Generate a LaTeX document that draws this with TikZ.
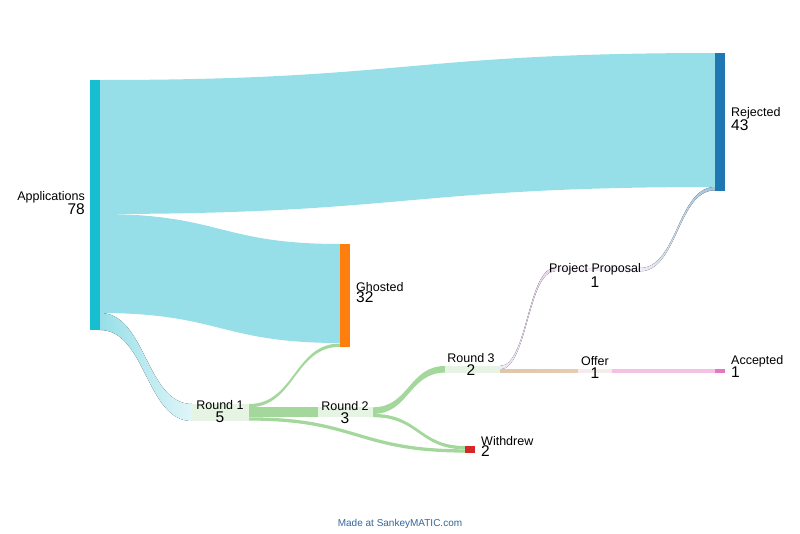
\documentclass[tikz,border=0pt]{standalone}
\usepackage{fontspec}
\setmainfont{Liberation Sans}
\usetikzlibrary{positioning}
\definecolor{appc}{HTML}{17BECF}
\definecolor{appflow}{HTML}{97DFE8}
\definecolor{rejc}{HTML}{1F77B4}
\definecolor{ghc}{HTML}{FF7F0E}
\definecolor{wdc}{HTML}{D62728}
\definecolor{accc}{HTML}{E377C2}
\definecolor{grflow}{HTML}{A3D79B}
\definecolor{grnode}{HTML}{E6F4E3}
\definecolor{ppnode}{HTML}{F1ECF6}
\definecolor{ofnode}{HTML}{F3ECEA}
\definecolor{foot}{HTML}{336699}
% band between two points, y grows downwards
\newcommand{\sflow}[6]{%
  \fill[#6] (#1,#2) .. controls ({(#1+#3)/2},#2) and ({(#1+#3)/2},#4) .. (#3,#4)
    -- (#3,{#4+#5}) .. controls ({(#1+#3)/2},{#4+#5}) and ({(#1+#3)/2},{#2+#5}) .. (#1,{#2+#5}) -- cycle;}
\tikzset{
  lbl/.style={font=\fontsize{12.5}{14}\selectfont, inner sep=0pt},
  numtxt/.style={font=\fontsize{15.5}{17}\selectfont, inner sep=0pt},
}
\begin{document}
\begin{tikzpicture}[x=1pt,y=-1pt]
    \useasboundingbox (0,0) rectangle (800,533);

    % flows
    \sflow{100}{80}{715}{53}{134}{appflow}
    \sflow{100}{214}{340}{244}{99}{appflow}
    \sflow{100}{313}{192}{404}{17}{left color=appflow,right color=appflow!30}
    \sflow{249}{404}{340}{343.5}{3.3}{grflow}
    \fill[grflow] (249,407.3) rectangle (318,417);
    \sflow{249}{417.3}{465}{449.3}{3.3}{grflow}
    \sflow{373}{407.3}{445}{366}{6.6}{grflow}
    \sflow{373}{413.9}{465}{446}{3.3}{grflow}
    \sflow{500}{366}{555}{268}{3.3}{left color=ppnode,right color=ppnode!60!violet!40}
    \sflow{640}{268}{715}{187}{3.3}{left color=ppnode,right color=rejc!45}
    \fill[left color=brown!45,right color=brown!40] (500,369.3) rectangle (578,372.6);
    \fill[accc!45] (612,369.3) rectangle (715,372.6);

    % node bars
    \fill[appc] (90,80) rectangle (100,330);
    \fill[rejc] (715,53) rectangle (725,191);
    \fill[ghc] (340,244) rectangle (350,347);
    \fill[wdc] (465,446) rectangle (475,452.6);
    \fill[accc] (715,369.3) rectangle (725,372.6);
    \fill[grnode] (192,404) rectangle (249,421);
    \fill[grnode] (318,407.3) rectangle (373,417);
    \fill[grnode] (445,366) rectangle (500,372.6);
    \fill[ppnode] (555,268) rectangle (640,271.3);
    \fill[ofnode] (578,369.3) rectangle (612,372.6);

    % labels
    \node[lbl, anchor=east] (app) at (85,197) {Applications};
    \node[numtxt, anchor=north east] (appn) at (app.south east) {78};
    \node[lbl, anchor=west] (rej) at (731,113) {Rejected};
    \node[numtxt, anchor=north west] (rejn) at (rej.south west) {43};
    \node[lbl, anchor=west] (gh) at (356,287) {Ghosted};
    \node[numtxt, anchor=north west] (ghn) at (gh.south west) {32};
    \node[lbl, anchor=west] (wd) at (481,441) {Withdrew};
    \node[numtxt, anchor=north west] (wdn) at (wd.south west) {2};
    \node[lbl, anchor=west] (acc) at (731,361) {Accepted};
    \node[numtxt, anchor=north west] (accn) at (acc.south west) {1};
    \node[lbl] (r1) at (220,405) {Round 1};
    \node[numtxt, below=2pt of r1] (r1n) {5};
    \node[lbl] (r2) at (345,406) {Round 2};
    \node[numtxt, below=2pt of r2] (r2n) {3};
    \node[lbl] (r3) at (471,358) {Round 3};
    \node[numtxt, below=2pt of r3] (r3n) {2};
    \node[lbl] (pp) at (595,269) {Project Proposal};
    \node[numtxt, below=2pt of pp] (ppn) {1};
    \node[lbl] (of) at (595,361) {Offer};
    \node[numtxt, below=2pt of of] (ofn) {1};

    \node[font=\fontsize{10}{12}\selectfont, text=foot] (made) at (400,524) {Made at SankeyMATIC.com};
\end{tikzpicture}
\end{document}
